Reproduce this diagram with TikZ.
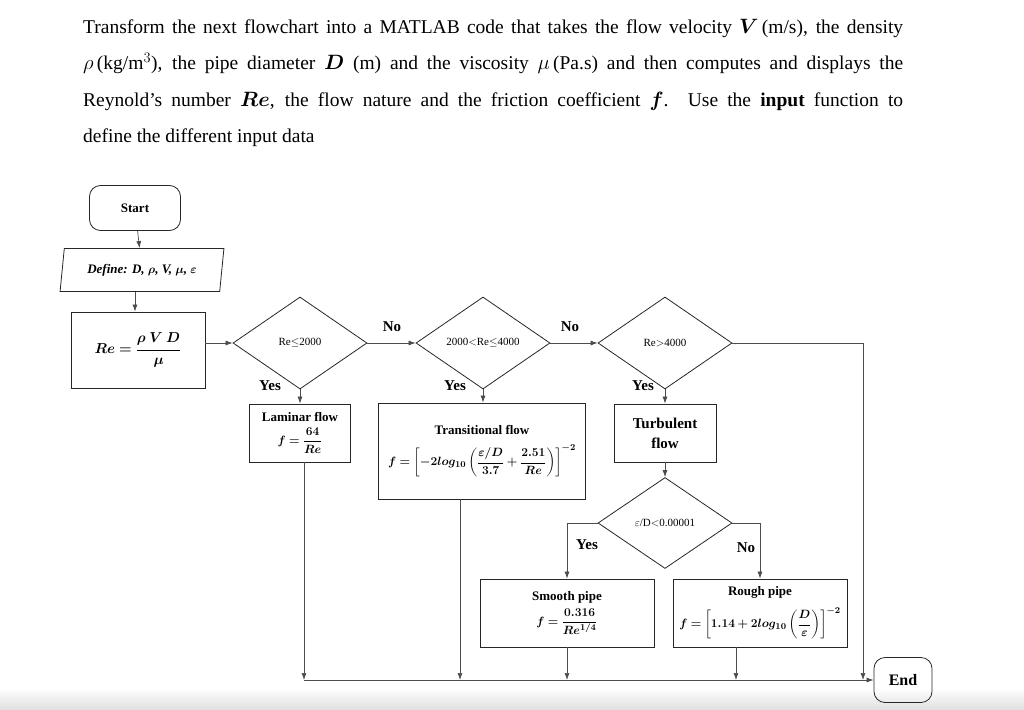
\documentclass[tikz,border=0pt]{standalone}
\usepackage{amsmath,bm}
\usepackage{fontspec}
\setmainfont{Liberation Serif}
\usetikzlibrary{shapes.geometric,arrows.meta}
\begin{document}
\begin{tikzpicture}[x=1pt,y=-1pt,
  box/.style={draw=black!85,line width=0.8pt,shape=rectangle,inner sep=0pt,align=center,font=\fontsize{13}{15}\selectfont\bfseries},
  dia/.style={draw=black!85,line width=0.8pt,shape=diamond,inner sep=0pt,minimum width=134pt,minimum height=92pt,font=\fontsize{11}{12}\selectfont},
  term/.style={draw=black!85,line width=0.8pt,rounded corners=11pt,inner sep=0pt},
  lbl/.style={font=\fontsize{15}{16}\selectfont\bfseries},
  arr/.style={draw=black!70,line width=0.7pt,-{Latex[length=7pt,width=5pt]}},
  ln/.style={draw=black!70,line width=0.7pt}]
\useasboundingbox (0,0) rectangle (1024,709);
\shade[top color=white,bottom color=black!12] (0,688) rectangle (1024,709);
\node[anchor=north west,text width=820pt,align=justify,inner sep=0pt,font=\fontsize{19.5}{36.5}\selectfont] (title) at (83,19)
{Transform the next flowchart into a MATLAB code that takes the flow velocity $\bm{V}$\,(m/s), the density\linebreak
$\rho$\,(kg/m$^3$), the pipe diameter $\bm{D}$ (m) and the viscosity $\mu$\,(Pa.s) and then computes and displays the\linebreak
Reynold's number $\bm{Re}$, the flow nature and the friction coefficient $\bm{f}$. Use the \textbf{input} function to\linebreak
define the different input data};

\node[term,minimum width=91pt,minimum height=45pt,font=\fontsize{13}{15}\selectfont\bfseries] (start) at (135,208) {Start};
\node[draw=black!85,line width=0.8pt,shape=trapezium,trapezium left angle=76,trapezium right angle=104,trapezium stretches=true,minimum width=164pt,minimum height=43pt,inner sep=0pt,font=\fontsize{13}{15}\selectfont\bfseries\itshape] (defn) at (142,270) {Define: D, $\bm{\rho}$, V, $\bm{\mu}$, $\bm{\varepsilon}$};
\node[box,minimum width=134pt,minimum height=76pt,font=\fontsize{14}{16}\selectfont] (reyn) at (138,350) {$\bm{Re=\displaystyle\frac{\rho\ V\ D}{\mu}}$};
\node[dia] (d1) at (300,343) {Re$\leq$2000};
\node[dia] (d2) at (483,343) {2000$<$Re$\leq$4000};
\node[dia] (d3) at (665,343) {Re$>$4000};
\node[box,minimum width=101pt,minimum height=58pt] (lam) at (300,433) {Laminar flow\\[5pt] \fontsize{13}{15}\selectfont$\bm{f=\displaystyle\frac{64}{Re}}$};
\node[box,minimum width=207pt,minimum height=96pt] (tra) at (482,451) {Transitional flow\\[10pt] \fontsize{13}{15}\selectfont$\bm{f=\left[-2log_{10}\left(\displaystyle\frac{\varepsilon/D}{3.7}+\frac{2.51}{Re}\right)\right]^{-2}}$};
\node[box,minimum width=102pt,minimum height=58pt,font=\fontsize{15}{20}\selectfont\bfseries] (tur) at (665,433) {Turbulent\\flow};
\node[dia,minimum height=91pt] (d4) at (665,523) {$\varepsilon$/D$<$0.00001};
\node[box,minimum width=174pt,minimum height=68pt] (smo) at (567,613) {Smooth pipe\\[4pt] \fontsize{13}{15}\selectfont$\bm{f=\displaystyle\frac{0.316}{Re^{1/4}}}$};
\node[box,minimum width=174pt,minimum height=68pt] (rou) at (760,613) {Rough pipe\\[8pt] \fontsize{13}{15}\selectfont$\bm{f=\left[1.14+2log_{10}\left(\displaystyle\frac{D}{\varepsilon}\right)\right]^{-2}}$};
\node[term,minimum width=58pt,minimum height=45pt,font=\fontsize{16}{17}\selectfont\bfseries] (end) at (903,680) {End};

\coordinate (b1) at (304,680);
\coordinate (b2) at (460,680);
\coordinate (b3) at (567,680);
\coordinate (b4) at (736,680);
\coordinate (b5) at (863,680);
\coordinate (c1) at (863,343);
\coordinate (yl) at (567,523);
\coordinate (nl) at (760,523);

\draw[arr] (start) -- (defn);
\draw[arr] (defn.south -| start) -- (reyn.north -| start);
\draw[arr] (reyn.east |- d1.west) -- (d1.west);
\draw[arr] (d1.east) -- (d2.west);
\draw[arr] (d2.east) -- (d3.west);
\draw[arr] (d1.south) -- (lam.north -| d1.south);
\draw[arr] (d2.south) -- (tra.north -| d2.south);
\draw[arr] (d3.south) -- (tur.north);
\draw[arr] (tur.south) -- (d4.north);
\draw[arr] (d4.west) -- (yl) -- (smo.north);
\draw[arr] (d4.east) -- (nl) -- (rou.north);
\draw[ln] (d3.east) -- (c1);
\draw[arr] (c1) -- (b5);
\draw[arr] (lam.south -| b1) -- (b1);
\draw[arr] (tra.south -| b2) -- (b2);
\draw[arr] (smo.south) -- (b3);
\draw[arr] (rou.south -| b4) -- (b4);
\draw[arr] (b1) -- (end.west);

\node[lbl] (n1) at (392,327) {No};
\node[lbl] (n2) at (570,327) {No};
\node[lbl] (y1) at (270,386) {Yes};
\node[lbl] (y2) at (455,386) {Yes};
\node[lbl] (y3) at (643,386) {Yes};
\node[lbl] (y4) at (587,545) {Yes};
\node[lbl] (n3) at (746,548) {No};
\end{tikzpicture}
\end{document}
